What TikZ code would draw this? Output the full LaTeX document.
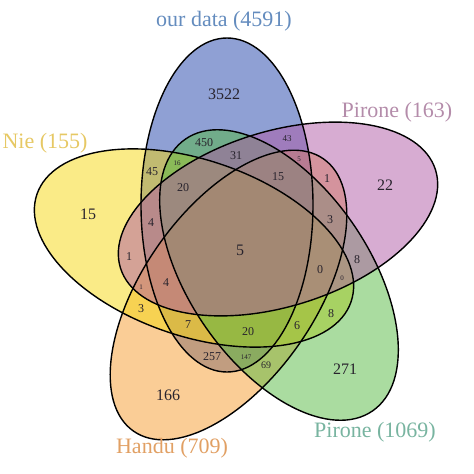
\documentclass[tikz,border=0pt]{standalone}
\usepackage{fontspec}
\setmainfont{Liberation Serif}
\definecolor{cblue}{RGB}{31,65,169}
\definecolor{cpink}{RGB}{175,90,165}
\definecolor{cgreen}{RGB}{85,185,65}
\definecolor{corange}{RGB}{245,155,45}
\definecolor{cyellow}{RGB}{245,215,15}
\definecolor{lblue}{RGB}{100,140,190}
\definecolor{lpink}{RGB}{180,140,170}
\definecolor{lgreen}{RGB}{120,180,160}
\definecolor{lorange}{RGB}{225,160,100}
\definecolor{lyellow}{RGB}{230,200,100}
\definecolor{numc}{RGB}{40,35,45}
\tikzset{
  setfill/.style={fill=#1, fill opacity=0.5, draw=none},
  setline/.style={draw=black, line width=1.4pt},
  title/.style={font=\fontsize{22}{25}\selectfont, text=#1, inner sep=0pt},
  big/.style={font=\fontsize{16}{18}\selectfont, text=numc, inner sep=0pt},
  mid/.style={font=\fontsize{12}{14}\selectfont, text=numc, inner sep=0pt},
  tiny/.style={font=\fontsize{7}{8}\selectfont, text=numc, inner sep=0pt}
}
\begin{document}
\begin{tikzpicture}[x=1pt,y=-1pt]
\useasboundingbox (0,0) rectangle (474,474);
% fills
\fill[setfill=cblue, rotate around={90:(227,205)}] (227,205) ellipse [x radius=167pt, y radius=86pt];
\fill[setfill=corange, rotate around={55.1:(228.5,295)}] (228.5,295) ellipse [x radius=166pt, y radius=86pt];
\fill[setfill=cyellow, rotate around={-18.9:(194,248)}] (194,248) ellipse [x radius=166pt, y radius=88pt];
\fill[setfill=cgreen, rotate around={-55.5:(279,275)}] (279,275) ellipse [x radius=165pt, y radius=90pt];
\fill[setfill=cpink, rotate around={17.3:(278,219)}] (278,219) ellipse [x radius=165pt, y radius=87.5pt];
% outlines
\draw[setline, rotate around={90:(227,205)}] (227,205) ellipse [x radius=167pt, y radius=86pt];
\draw[setline, rotate around={55.1:(228.5,295)}] (228.5,295) ellipse [x radius=166pt, y radius=86pt];
\draw[setline, rotate around={-18.9:(194,248)}] (194,248) ellipse [x radius=166pt, y radius=88pt];
\draw[setline, rotate around={-55.5:(279,275)}] (279,275) ellipse [x radius=165pt, y radius=90pt];
\draw[setline, rotate around={17.3:(278,219)}] (278,219) ellipse [x radius=165pt, y radius=87.5pt];
% titles
\node[title=lblue] (tA) at (224,21) {our data (4591)};
\node[title=lpink] (tB) at (397,112) {Pirone (163)};
\node[title=lyellow] (tE) at (45,143) {Nie (155)};
\node[title=lorange] (tD) at (172,448) {Handu (709)};
\node[title=lgreen] (tC) at (375,432) {Pirone (1069)};
% numbers
\node[big] (n3522) at (224,94) {3522};
\node[big] (n22) at (385,185) {22};
\node[big] (n271) at (345,369) {271};
\node[big] (n166) at (168,395) {166};
\node[big] (n15a) at (88,214) {15};
\node[big] (n5c) at (240,250) {5};
\node[mid] (n450) at (204,143) {450};
\node[tiny,font=\fontsize{9}{10}\selectfont] (n43) at (287,139) {43};
\node[mid] (n31) at (236,156) {31};
\node[tiny] (n16) at (177,163) {16};
\node[tiny] (n5s) at (299,159) {5};
\node[mid] (n15b) at (278,177) {15};
\node[mid] (n20a) at (183,188) {20};
\node[mid] (n45) at (152,172) {45};
\node[mid] (n4a) at (151,223) {4};
\node[mid] (n1a) at (129,257) {1};
\node[tiny] (n1s) at (141,287) {1};
\node[mid] (n4b) at (166,283) {4};
\node[mid] (n3a) at (141,309) {3};
\node[mid] (n7) at (188,325) {7};
\node[mid] (n257) at (212,357) {257};
\node[tiny] (n147) at (246,357) {147};
\node[mid,font=\fontsize{10}{12}\selectfont] (n69) at (266,365) {69};
\node[mid] (n20b) at (248,332) {20};
\node[mid] (n6) at (297,326) {6};
\node[mid] (n8a) at (331,314) {8};
\node[mid] (n1b) at (327,179) {1};
\node[mid] (n3b) at (330,220) {3};
\node[mid] (n8b) at (357,260) {8};
\node[mid] (n0) at (320,270) {0};
\node[tiny] (n0s) at (342,278) {0};
\end{tikzpicture}
\end{document}
